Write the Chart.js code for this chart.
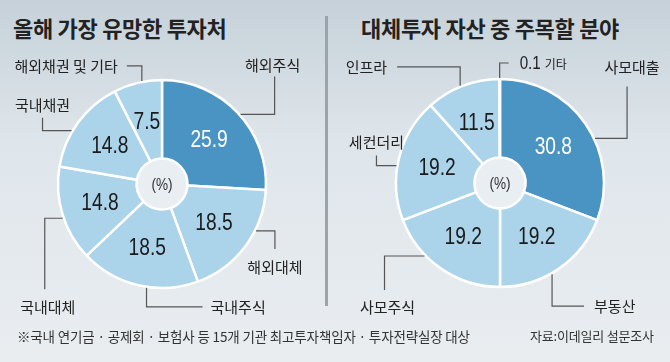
<!DOCTYPE html>
<html>
<head>
<meta charset="utf-8">
<script src="https://cdn.jsdelivr.net/npm/chart.js"></script>
<style>
body{margin:0;width:670px;height:362px;overflow:hidden;position:relative;
  background:linear-gradient(#c6d1d9,#dfe6eb 40%,#e9edf0);font-family:"Noto Sans CJK KR",sans-serif;color:#222}
.title{position:absolute;top:11px;font-size:22px;font-weight:bold;letter-spacing:-0.3px;white-space:nowrap}
.note{position:absolute;top:326px;font-size:13.5px;color:#333;white-space:nowrap;letter-spacing:-0.15px}
#divider{position:absolute;left:325px;top:16px;width:3px;height:290px;background:#9ba4ab}
canvas{position:absolute}
</style>
</head>
<body>
<div class="title" style="left:13px">올해 가장 유망한 투자처</div>
<div class="title" style="left:361px;letter-spacing:-0.3px">대체투자 자산 중 주목할 분야</div>
<div id="divider"></div>
<canvas id="left" width="324" height="288" style="left:0;top:40px"></canvas>
<canvas id="right" width="340" height="288" style="left:330px;top:39px"></canvas>
<div class="note" style="left:17px">※국내 연기금 · 공제회 · 보험사 등 15개 기관 최고투자책임자 · 투자전략실장 대상</div>
<div class="note" style="left:530px;font-size:13px;letter-spacing:-0.2px">자료:이데일리 설문조사</div>

<script>
    // data
    var leftCats = ['해외주식', '해외대체', '국내주식', '국내대체', '국내채권', '해외채권 및 기타'];
    var leftVals = [25.9, 18.5, 18.5, 14.8, 14.8, 7.5];
    var rightCats = ['사모대출', '부동산', '사모주식', '세컨더리', '인프라', '기타'];
    var rightVals = [30.8, 19.2, 19.2, 19.2, 11.5, 0.1];

    var dark = '#4a94c3', light = '#abd4eb';
    var numFont = '"Liberation Sans", Arial, sans-serif';
    var korFont = '"Noto Sans CJK KR", sans-serif';

    // callout leader geometry: t = where on the slice edge, dir = first segment, dx/dy = elbow, tx/ty = text offset
    var leftCallouts = [
        {t: 0.52, dir: 'h', dx: 34, dy: -38, tx: -2, ty: -11, align: 'center'},
        {t: 0.35, dir: 'h', dx: 19, dy: 18, tx: 0, ty: 18, align: 'center'},
        {t: 0.43, dir: 'v', dx: 56, dy: 19, tx: 8, ty: 0, align: 'left'},
        {t: 0.46, dir: 'h', dx: -18, dy: 71, tx: 3, ty: 18, align: 'center'},
        {t: 0.39, dir: 'h', dx: -29, dy: -13, tx: 0, ty: -12, align: 'center'},
        {t: 0.59, dir: 'v', dx: -15, dy: -15, tx: -9, ty: 0, align: 'right'}
    ];
    var rightCallouts = [
        {t: 0.585, dir: 'h', dx: 32, dy: -52, tx: 5, ty: -19, align: 'center'},
        {t: 0.57, dir: 'v', dx: 32, dy: 32, tx: 10, ty: 0, align: 'left'},
        {t: 0.665, dir: 'h', dx: -40, dy: 34, tx: 3, ty: 17, align: 'center'},
        {t: 0.44, dir: 'h', dx: -20, dy: -10, tx: 0, ty: -13, align: 'center'},
        {t: 0.47, dir: 'v', dx: -63, dy: -19, tx: -10, ty: 0, align: 'right'},
        {t: 0.5, dir: 'v', dx: 9, dy: -15, tx: 11, ty: 0, align: 'left', withValue: true}
    ];

    // condensed number text: squeeze horizontally
    function narrowText(ctx, txt, x, y, align, sq) {
        ctx.save();
        ctx.translate(x, y);
        ctx.scale(sq, 1);
        ctx.textAlign = align;
        ctx.fillText(txt, 0, 0);
        ctx.restore();
        return ctx.measureText(txt).width * sq;
    }

    var donutLabels = {
        id: 'donutLabels',
        beforeDatasetsDraw: function (chart) {
            var arc = chart.getDatasetMeta(0).data[0];
            var ctx = chart.ctx;
            ctx.save();
            ctx.fillStyle = '#e8eef2';
            ctx.beginPath();
            ctx.arc(arc.x, arc.y, arc.innerRadius, 0, Math.PI * 2);
            ctx.fill();
            ctx.restore();
        },
        afterDatasetsDraw: function (chart, args, opts) {
            var ctx = chart.ctx;
            var meta = chart.getDatasetMeta(0);
            var vals = chart.data.datasets[0].data;
            var cats = chart.data.labels;
            ctx.save();
            ctx.textBaseline = 'middle';
            meta.data.forEach(function (arc, i) {
                var p = arc.getProps(['x', 'y', 'startAngle', 'endAngle', 'innerRadius', 'outerRadius'], true);
                // value inside the ring
                if (vals[i] >= 1) {
                    var mid = (p.startAngle + p.endAngle) / 2;
                    var r = (p.innerRadius + p.outerRadius) / 2;
                    ctx.font = '24px ' + numFont;
                    ctx.fillStyle = i === 0 ? '#ffffff' : '#1a1a1a';
                    narrowText(ctx, vals[i].toFixed(1), p.x + r * Math.cos(mid), p.y + r * Math.sin(mid) + 1, 'center', 0.8);
                }
                // leader line
                var c = opts.callouts[i];
                var a = p.startAngle + c.t * (p.endAngle - p.startAngle);
                var sx = p.x + (p.outerRadius + 1) * Math.cos(a);
                var sy = p.y + (p.outerRadius + 1) * Math.sin(a);
                var ex = sx + c.dx, ey = sy + c.dy;
                ctx.strokeStyle = '#555';
                ctx.lineWidth = 1.2;
                ctx.beginPath();
                ctx.moveTo(sx, sy);
                if (c.dir === 'h') ctx.lineTo(ex, sy); else ctx.lineTo(sx, ey);
                ctx.lineTo(ex, ey);
                ctx.stroke();
                // category text
                ctx.fillStyle = '#222';
                var lx = ex + c.tx, ly = ey + c.ty;
                if (c.withValue) {
                    ctx.font = '19px ' + numFont;
                    var w = narrowText(ctx, vals[i].toFixed(1), lx, ly + 1, 'left', 0.8);
                    ctx.font = '12px ' + korFont;
                    ctx.textAlign = 'left';
                    ctx.fillText(cats[i], lx + w + 4, ly + 1);
                } else {
                    ctx.textAlign = c.align;
                    ctx.font = '15px ' + korFont;
                    ctx.fillText(cats[i], lx, ly);
                }
            });
            // unit in the hole
            var a0 = meta.data[0];
            ctx.font = '17px ' + numFont;
            ctx.fillStyle = '#333';
            narrowText(ctx, '(%)', a0.x, a0.y + 1, 'center', 0.8);
            ctx.restore();
        }
    };

    function makeDonut(id, cats, vals, callouts) {
        var colors = vals.map(function (v, i) { return i === 0 ? dark : light; });
        return new Chart(document.getElementById(id), {
            type: 'doughnut',
            data: {
                labels: cats,
                datasets: [{
                    data: vals,
                    backgroundColor: colors,
                    borderColor: '#ffffff',
                    borderWidth: 2.5
                }]
            },
            options: {
                responsive: false,
                animation: false,
                radius: 104,
                cutout: 35,
                layout: {padding: 0},
                plugins: {
                    legend: {display: false},
                    tooltip: {enabled: false},
                    donutLabels: {callouts: callouts}
                }
            },
            plugins: [donutLabels]
        });
    }

    makeDonut('left', leftCats, leftVals, leftCallouts);
    makeDonut('right', rightCats, rightVals, rightCallouts);
</script>
</body>
</html>
